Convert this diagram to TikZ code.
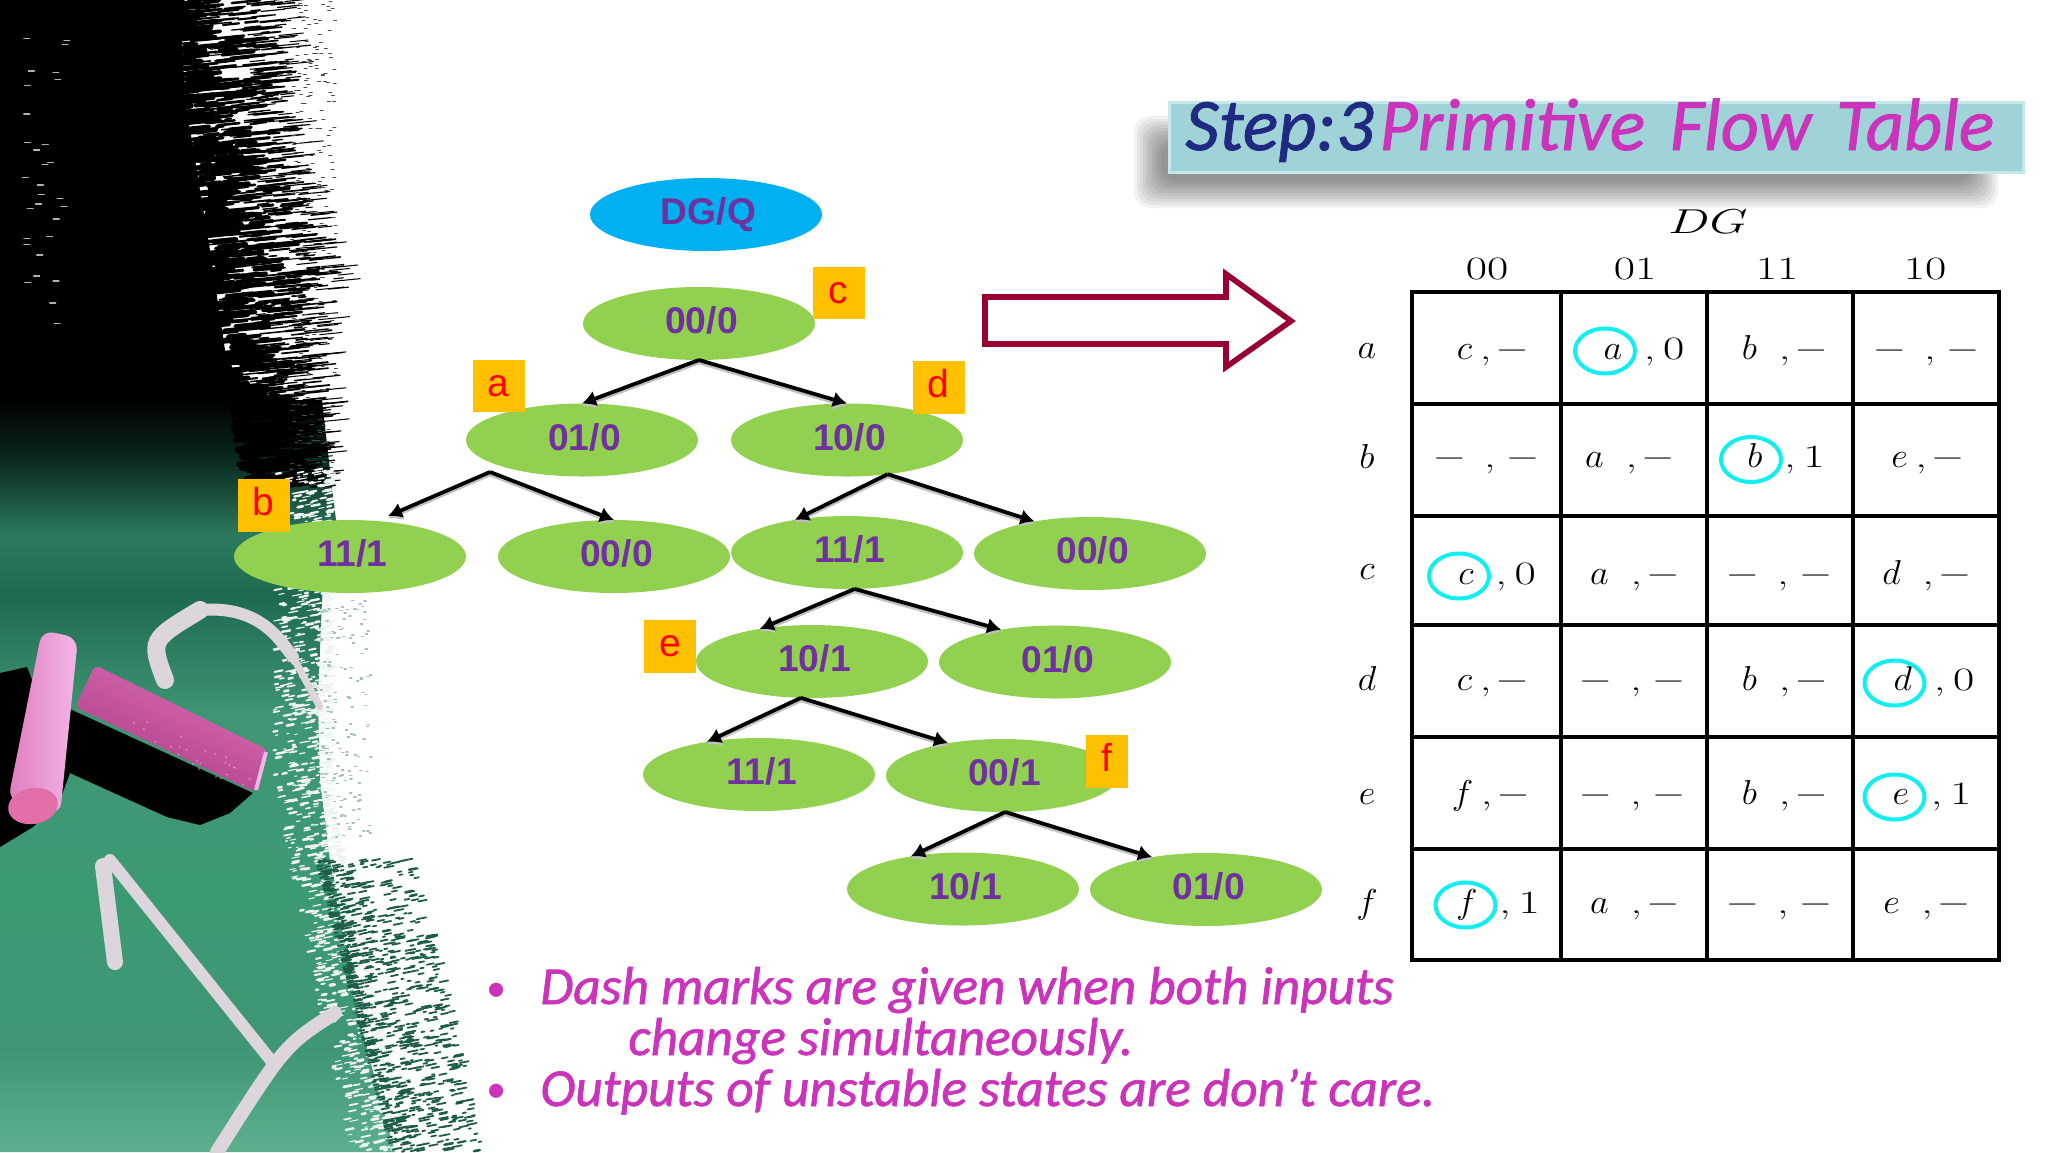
\documentclass[tikz,border=0pt]{standalone}
\usepackage{fontspec}
\usetikzlibrary{shapes.geometric,arrows.meta}
\newfontfamily\arialfont{Liberation Sans}
\newfontfamily\handfont[FakeBold=1.2]{Carlito}
\definecolor{ellgreen}{HTML}{92D050}
\definecolor{ellblue}{HTML}{00B0F0}
\definecolor{purp}{HTML}{7030A0}
\definecolor{tagorange}{HTML}{FFC000}
\definecolor{arrowred}{HTML}{990033}
\definecolor{ttlteal}{HTML}{A0D3D8}
\definecolor{ttledge}{HTML}{C4E8EA}
\definecolor{ttlblue}{HTML}{1F2A80}
\definecolor{hand}{HTML}{CC33BB}
\definecolor{ringcyan}{HTML}{10EEF0}
\definecolor{chalk}{HTML}{DDD5DC}
\definecolor{brdA}{HTML}{0A2A20}
\definecolor{brdB}{HTML}{2C7A5E}
\definecolor{brdC}{HTML}{1E6A50}
\definecolor{brdD}{HTML}{3F9674}
\definecolor{brdE}{HTML}{3C9A72}
\definecolor{brdF}{HTML}{5CB08E}
\definecolor{brdDark}{HTML}{1D5D47}
\definecolor{pinkA}{HTML}{E07DBE}
\definecolor{pinkB}{HTML}{F3B6E6}
\definecolor{pinkC}{HTML}{E26FA8}
\definecolor{roseA}{HTML}{DD6DB6}
\definecolor{roseB}{HTML}{A93C86}
\pgfdeclareverticalshading{brdshade}{100bp}{color(0bp)=(brdF);color(25bp)=(brdF);color(32bp)=(brdD);color(42bp)=(brdE);color(54bp)=(brdD);color(62bp)=(brdC);color(66bp)=(brdB);color(71bp)=(brdA);color(75bp)=(black);color(100bp)=(black)}
\newcommand{\nd}{\textbf{\textendash}}
\newcommand{\stv}[1]{\scalebox{0.74}[1]{\fontsize{18.5}{20}\selectfont$#1$}}
\tikzset{
  ellnode/.style={ellipse, minimum width=116pt, minimum height=36.5pt, inner sep=0pt, outer sep=0pt, fill=ellgreen,
    text=purp, text height=10pt, text depth=0pt, execute at begin node=\hspace{2.5pt},
    font=\arialfont\bfseries\fontsize{18.6}{20}\selectfont},
  tagbox/.style={rectangle, minimum width=26pt, minimum height=26.3pt, inner sep=0pt, fill=tagorange,
    text=red, text height=10pt, text depth=0pt, font=\arialfont\fontsize{19.5}{21}\selectfont},
  linkarr/.style={-{Latex[length=7pt,width=8pt]}, line width=1.9pt,
    preaction={draw=black!25, line width=1.9pt, transform canvas={yshift=-1.2pt}}},
  cellnum/.style={anchor=base, inner sep=0pt, xscale=1.42, transform shape, font=\fontsize{16.3}{18}\selectfont},
  ring/.style={ellipse, draw=ringcyan, line width=2pt, minimum width=30pt, minimum height=22.5pt, inner sep=0pt},
  handtxt/.style={anchor=base west, inner sep=0pt, text=hand, font=\handfont\itshape\fontsize{26.7}{29}\selectfont},
  bultxt/.style={anchor=base, inner sep=0pt, text=hand, font=\arialfont\fontsize{26}{28}\selectfont},
  inkstreak/.style={line cap=round},
}
\begin{document}
\begin{tikzpicture}[x=0.5pt,y=-0.5pt]
\useasboundingbox (0,0) rectangle (2048,1152);
\fill[white] (0,0) rectangle (2048,1152);
% board
\fill[black] (0,0) -- (180,0) -- (185,100) -- (210,250) -- (225,350) -- (250,410) -- (0,410) -- cycle;
\shade[shading=brdshade] (0,400) -- (322,400) -- (330,470) -- (336,520) -- (322,600) -- (318,700) -- (320,780) -- (330,860) -- (345,930) -- (355,1000) -- (370,1060) -- (395,1152) -- (0,1152) -- cycle;
\pgfmathsetseed{4711}
\foreach \i in {1,...,1500}{
  \pgfmathsetmacro{\yy}{rnd*490}
  \pgfmathsetmacro{\xb}{300+(\yy>290?30:50*exp(-((\yy-290)/90)^2))}
  \pgfmathsetmacro{\xs}{165+0.16*\yy}
  \pgfmathsetmacro{\ff}{rnd^1.6}
  \pgfmathsetmacro{\xa}{\xs+\ff*(\xb-\xs-10)}
  \pgfmathsetmacro{\ln}{6+rnd*26}
  \pgfmathsetmacro{\th}{0.5+rnd*2.6*(1-\ff)}
  \draw[inkstreak, black, line width=\th pt] (\xa,\yy) -- (\xa+\ln,\yy-\ln*0.1);
}
\foreach \i in {1,...,260}{
  \pgfmathsetmacro{\yy}{rnd*480}
  \pgfmathsetmacro{\xa}{290+rnd*45}
  \draw[inkstreak, black!70, line width=0.5pt] (\xa,\yy) -- (\xa+3,\yy);
}
\foreach \i in {1,...,30}{
  \pgfmathsetmacro{\yy}{30+rnd*300}
  \pgfmathsetmacro{\xa}{20+rnd*45}
  \draw[inkstreak, white!70!black, line width=0.6pt] (\xa,\yy) -- (\xa+6,\yy);
}
\foreach \i in {1,...,1300}{
  \pgfmathsetmacro{\yy}{470+rnd*682}
  \pgfmathsetmacro{\xb}{318+(\yy>800?(\yy-800)*0.22:0)}
  \pgfmathsetmacro{\xa}{\xb+10-55*rnd^2}
  \pgfmathsetmacro{\ln}{2+rnd*7}
  \pgfmathsetmacro{\th}{0.4+rnd*1.0}
  \draw[inkstreak, white!92!brdB, line width=\th pt] (\xa,\yy) -- (\xa+\ln,\yy-\ln*0.2);
}
\foreach \i in {1,...,160}{
  \pgfmathsetmacro{\yy}{600+rnd*240}
  \pgfmathsetmacro{\xa}{320+rnd*50}
  \draw[inkstreak, brdB!45, line width=0.8pt] (\xa,\yy) -- (\xa+2,\yy);
}
\foreach \i in {1,...,850}{
  \pgfmathsetmacro{\yy}{860+rnd*292}
  \pgfmathsetmacro{\xb}{325+(\yy-860)*0.26}
  \pgfmathsetmacro{\xa}{\xb-10+rnd^1.6*95}
  \pgfmathsetmacro{\ln}{2+rnd*8}
  \draw[inkstreak, brdDark, line width=0.9pt] (\xa,\yy) -- (\xa+\ln,\yy-\ln*0.2);
}
% chalks
\fill[black] (0,673) -- (27,667) -- (40,700) -- (72,710) -- (253,793) -- (230,813) -- (200,825) -- (167,817) -- (70,773) -- (60,800) -- (33,827) -- (0,847) -- cycle;
\shade[top color=roseA, bottom color=roseB, shading angle=-25, rounded corners=3pt] (95,665) -- (268,750) -- (255,792) -- (75,707) -- cycle;
\draw[pinkB, line width=2pt] (266,752) -- (256,790);
\foreach \i in {1,...,25}{
  \pgfmathsetmacro{\xa}{130+rnd*120}
  \pgfmathsetmacro{\yy}{(\xa-75)*0.47+712-rnd*26}
  \fill[pinkB, opacity=0.6] (\xa,\yy) circle (1);
}
\shade[left color=pinkA, right color=pinkB, rounded corners=6pt] (42,630) -- (78,638) -- (60,815) -- (8,800) -- cycle;
\fill[pinkC, rotate around={10:(33,806)}] (33,806) ellipse (25 and 18);
\draw[chalk, line width=9pt, line cap=round] (165,680) .. controls (150,640) .. (200,610);
\draw[chalk, line width=6pt, line cap=round] (200,610) .. controls (260,605) and (280,640) .. (293,657);
\draw[chalk, line width=3.5pt, line cap=round] (293,657) -- (320,707);
\draw[chalk, line width=8pt, line cap=round] (103,866) -- (115,962);
\draw[chalk, line width=6pt, line cap=round] (110,860) -- (273,1063);
\draw[chalk, line width=7pt, line cap=round] (335,1013) .. controls (285,1045) .. (217,1152);
% title
\foreach \d in {0,3,...,27}{
  \fill[black, opacity=0.05, rounded corners=8pt] (1134+\d,116+\d) rectangle (1998-\d,208-\d);
}
\node[rectangle, fill=ttlteal, draw=ttledge, line width=1.5pt, minimum width=427pt, minimum height=35pt, inner sep=0pt] (ttlbar) at (1596,137) {};
\node[anchor=base west, inner sep=0pt, font=\handfont\itshape\fontsize{37}{40}\selectfont] (ttltxt) at (1185,150) {\textcolor{ttlblue}{Step:3}\hspace{3pt}\textcolor{hand}{Primitive\hspace{4pt} Flow\hspace{4pt} Table}};
% tree
\node[ellnode, fill=ellblue] (root) at (706,214.5) {DG/Q};
\node[ellnode] (st0) at (699,323.5) {00/0};
\node[ellnode] (st1) at (582,440) {01/0};
\node[ellnode] (st2) at (847,440) {10/0};
\node[ellnode] (st3) at (350,556.5) {11/1};
\node[ellnode] (st4) at (614,556.5) {00/0};
\node[ellnode] (st5) at (847,552.5) {11/1};
\node[ellnode] (st6) at (1090,553.5) {00/0};
\node[ellnode] (st7) at (812,661.5) {10/1};
\node[ellnode] (st8) at (1055,662) {01/0};
\node[ellnode] (st9) at (759,774.5) {11/1};
\node[ellnode] (st10) at (1002,775.5) {00/1};
\node[ellnode] (st11) at (963,889) {10/1};
\node[ellnode] (st12) at (1206,889.5) {01/0};
\coordinate (jnA) at (490,472);
\coordinate (tipB) at (388,516);
\draw[linkarr] (st0.south) -- (st1.north);
\draw[linkarr] (st0.south) -- (st2.north);
\draw[linkarr] (jnA) -- (tipB);
\draw[linkarr] (jnA) -- (st4.north);
\draw[linkarr] (st2.320) -- (st5.148);
\draw[linkarr] (st2.320) -- (st6.150);
\draw[linkarr] (st5.282) -- (st7.148);
\draw[linkarr] (st5.282) -- (st8.149);
\draw[linkarr] (st7.253) -- (st9.148);
\draw[linkarr] (st7.253) -- (st10.149);
\draw[linkarr] (st10.275) -- (st11.148);
\draw[linkarr] (st10.275) -- (st12.149);
\node[tagbox] (tagc) at (838.5,293) {c};
\node[tagbox] (taga) at (498.5,386) {a};
\node[tagbox] (tagd) at (938.5,387.5) {d};
\node[tagbox] (tagb) at (263.5,505.5) {b};
\node[tagbox] (tage) at (670,646.5) {e};
\node[tagbox, minimum width=21pt] (tagf) at (1107,761.5) {f};
% block arrow
\draw[arrowred, line width=2.8pt, miter limit=10] (985,297) -- (1226,297) -- (1226,274) -- (1291,321) -- (1226,367) -- (1226,344) -- (985,344) -- cycle;
% table
\draw[black, line width=2pt] (1412,292) rectangle (1999,960);
\foreach \cx in {1561,1707,1853}{
  \draw[black, line width=2pt] (\cx,292) -- (\cx,960);
}
\foreach \ry in {403.5,516,625,737,848.5}{
  \draw[black, line width=2pt] (1412,\ry) -- (1999,\ry);
}
\node[cellnum] (hdg) at (1708,233) {$DG$};
\foreach \cx/\clab in {1487/00,1635/01,1777/11,1925/10}{
  \node[cellnum] (hd\clab) at (\cx,279) {\clab};
}
\foreach \ry/\rlab in {358/a,468/b,579/c,690/d,804/e,913/f}{
  \node[cellnum] (row\rlab) at (1367,\ry) {\stv{\rlab}};
}
\foreach \nm/\cx/\ry/\txt in {
  aa/1491/359/{\stv{c}\,,\,\nd},ab/1644/359/{\stv{a}\ \,,\,0},ac/1783/359/{\stv{b}\ \,,\,\nd},ad/1926/359/{\nd\ \,,\ \nd},
  ba/1486/467/{\nd\ \,,\ \nd},bb/1628/467/{\stv{a}\ \,,\,\nd},bc/1786/467/{\stv{b}\ \,,\,1},bd/1926/467/{\stv{e}\,,\,\nd},
  ca/1497/584/{\stv{c}\ \,,\,0},cb/1633/584/{\stv{a}\ \,,\,\nd},cc/1779/584/{\nd\ \,,\ \nd},cd/1925/584/{\stv{d}\ \,,\,\nd},
  da/1491/690/{\stv{c}\,,\,\nd},db/1632/690/{\nd\ \,,\ \nd},dc/1783/690/{\stv{b}\ \,,\,\nd},dd/1934/690/{\stv{d}\ \,,\,0},
  ea/1489/804/{\stv{f}\,,\,\nd},eb/1632/804/{\nd\ \,,\ \nd},ec/1783/804/{\stv{b}\ \,,\,\nd},ed/1932/804/{\stv{e}\ \,,\,1},
  fa/1498/913/{\stv{f}\ \,,\,1},fb/1633/913/{\stv{a}\ \,,\,\nd},fc/1779/913/{\nd\ \,,\ \nd},fd/1925/913/{\stv{e}\ \,,\,\nd}}{
  \node[cellnum] (cell\nm) at (\cx,\ry) {\txt};
}
\node[ring] (ringa) at (1605,351) {};
\node[ring] (ringb) at (1751,459.5) {};
\node[ring] (ringc) at (1459,576) {};
\node[ring] (ringd) at (1894.5,683) {};
\node[ring] (ringe) at (1894.5,797) {};
\node[ring] (ringf) at (1465.5,905) {};
% notes
\node[bultxt] (bul1) at (497,1007.5) {•};
\node[bultxt] (bul2) at (497,1108.5) {•};
\node[handtxt] (note1) at (540,1004) {Dash marks are given when both inputs};
\node[handtxt] (note2) at (628,1055) {change simultaneously.};
\node[handtxt] (note3) at (540,1106) {Outputs of unstable states are don’t care.};
\end{tikzpicture}
\end{document}
